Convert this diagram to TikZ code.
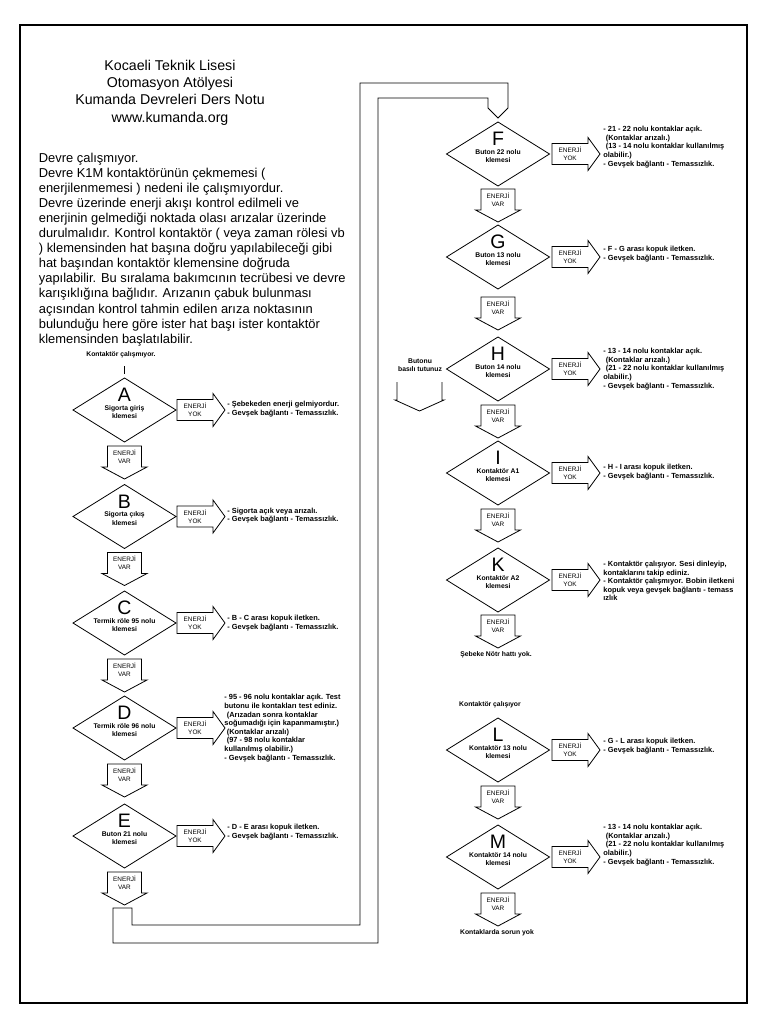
\documentclass[tikz,border=0pt]{standalone}
\usepackage{fontspec}
\setmainfont{Liberation Sans}
\newcommand\descfont{\fontsize{7.4}{8.6}\selectfont\bfseries}
\newcommand\sublabfont{\fontsize{6.8}{8.8}\selectfont\bfseries}
\newcommand\arrfont{\fontsize{6.4}{7.8}\selectfont}
\newcommand\letfont{\fontsize{19.5}{19.5}\selectfont}
\newcommand\ind{\hspace*{2.5pt}}
% diamond: name, cx, cy, letter, first line
\newcommand\Dmd[5]{%
  \draw (#2-51.5,#3) -- (#2,#3-32) -- (#2+51.5,#3) -- (#2,#3+32) -- cycle;
  \node[letnode] (#1-letter) at (#2,#3-15) {#4};
  \node[sublab] (#1) at (#2,#3+2) {#5\\klemesi};
}
% right block arrow: name, left x, centre y
\newcommand\YokArrow[3]{%
  \draw (#2,#3-10.5) -- (#2+36,#3-10.5) -- (#2+36,#3-16.5) -- (#2+48,#3)
        -- (#2+36,#3+16.5) -- (#2+36,#3+10.5) -- (#2,#3+10.5) -- cycle;
  \node[arrtext] (#1) at (#2+18,#3) {ENERJİ\\YOK};
}
% down block arrow: name, centre x, top y
\newcommand\VarArrow[3]{%
  \draw (#2-17,#3) -- (#2+17,#3) -- (#2+17,#3+21) -- (#2+22.5,#3+21)
        -- (#2,#3+33) -- (#2-22.5,#3+21) -- (#2-17,#3+21) -- cycle;
  \node[arrtext] (#1) at (#2,#3+10.5) {ENERJİ\\VAR};
}
\begin{document}
\begin{tikzpicture}[x=1pt,y=-1pt,line width=0.8pt,line join=miter,
  desc/.style={font=\descfont,align=left,anchor=west,inner sep=0pt},
  sublab/.style={font=\sublabfont,align=center,inner sep=0pt},
  arrtext/.style={font=\arrfont,align=center,inner sep=0pt},
  letnode/.style={font=\letfont,inner sep=0pt},
  smalllab/.style={font=\sublabfont,inner sep=0pt,align=center}]
\useasboundingbox (0,0) rectangle (768,1024);
\fill[white] (0,0) rectangle (768,1024);
\draw[line width=1.1pt] (20,25) rectangle (747,1003);

% title
\node[anchor=north,align=center,inner sep=0pt,font=\fontsize{14.2}{17.2}\selectfont] (title) at (170,59.8)
 {Kocaeli Teknik Lisesi\\Otomasyon Atölyesi\\Kumanda Devreleri Ders Notu\\www.kumanda.org};

% paragraph
\node[anchor=north west,align=left,inner sep=0pt,font=\fontsize{12.9}{15.1}\selectfont] (para) at (38.5,152.3)
 {Devre çalışmıyor.\\
Devre K1M kontaktörünün çekmemesi (\\
enerjilenmemesi ) nedeni ile çalışmıyordur.\\
Devre üzerinde enerji akışı kontrol edilmeli ve\\
enerjinin gelmediği noktada olası arızalar üzerinde\\
durulmalıdır. Kontrol kontaktör ( veya zaman rölesi vb\\
) klemensinden hat başına doğru yapılabileceği gibi\\
hat başından kontaktör klemensine doğruda\\
yapılabilir. Bu sıralama bakımcının tecrübesi ve devre\\
karışıklığına bağlıdır. Arızanın çabuk bulunması\\
açısından kontrol tahmin edilen arıza noktasının\\
bulunduğu here göre ister hat başı ister kontaktör\\
klemensinden başlatılabilir.};

% left column
\node[smalllab] (startL) at (121,355) {Kontaktör çalışmıyor.};
\coordinate (tickA) at (124,366);
\coordinate (tickB) at (124,374);
\draw (tickA) -- (tickB);

\Dmd{A}{124.5}{410}{A}{Sigorta giriş}
\YokArrow{yA}{177}{410}
\node[desc] (dA) at (227,409) {- Şebekeden enerji gelmiyordur.\\- Gevşek bağlantı - Temassızlık.};
\VarArrow{vA}{124.5}{446}

\Dmd{B}{124.5}{516.5}{B}{Sigorta çıkış}
\YokArrow{yB}{177}{516.5}
\node[desc] (dB) at (227,515.5) {- Sigorta açık veya arızalı.\\- Gevşek bağlantı - Temassızlık.};
\VarArrow{vB}{124.5}{552.5}

\Dmd{C}{124.5}{623}{C}{Termik röle 95 nolu}
\YokArrow{yC}{177}{623}
\node[desc] (dC) at (227,623) {- B - C arası kopuk iletken.\\- Gevşek bağlantı - Temassızlık.};
\VarArrow{vC}{124.5}{659}

\Dmd{D}{124.5}{728}{D}{Termik röle 96 nolu}
\YokArrow{yD}{177}{728}
\node[desc] (dD) at (224,728) {- 95 - 96 nolu kontaklar açık. Test\\
butonu ile kontakları test ediniz.\\
\ind(Arızadan sonra kontaklar\\
soğumadığı için kapanmamıştır.)\\
\ind(Kontaklar arızalı)\\
\ind(97 - 98 nolu kontaklar\\
kullanılmış olabilir.)\\
- Gevşek bağlantı - Temassızlık.};
\VarArrow{vD}{124.5}{764}

\Dmd{E}{124.5}{836}{E}{Buton 21 nolu}
\YokArrow{yE}{177}{836}
\node[desc] (dE) at (227,832) {- D - E arası kopuk iletken.\\- Gevşek bağlantı - Temassızlık.};
\VarArrow{vE}{124.5}{872}

% pipe connector from E to F
\draw (113,908) -- (113,943) -- (378,943) -- (378,98) -- (488,98) -- (488,108) -- (498,118)
      -- (508,108) -- (508,83) -- (360,83) -- (360,925) -- (132,925) -- (132,908) -- cycle;

% right column
\Dmd{F}{498}{154}{F}{Buton 22 nolu}
\YokArrow{yF}{552}{154}
\node[desc] (dF) at (603,147) {- 21 - 22 nolu kontaklar açık.\\
\ind(Kontaklar arızalı.)\\
\ind(13 - 14 nolu kontaklar kullanılmış\\
olabilir.)\\
- Gevşek bağlantı - Temassızlık.};
\VarArrow{vF}{498}{189}

\Dmd{G}{498}{257}{G}{Buton 13 nolu}
\YokArrow{yG}{552}{257}
\node[desc] (dG) at (603,254) {- F - G arası kopuk iletken.\\- Gevşek bağlantı - Temassızlık.};
\VarArrow{vG}{498}{297}

\node[smalllab,font=\fontsize{6.8}{8}\selectfont\bfseries] (btn) at (420,365) {Butonu\\basılı tutunuz};
\draw (397,382) -- (397,400) -- (395,400) -- (419.5,411) -- (444,400) -- (442,400) -- (442,382);

\Dmd{H}{498}{369}{H}{Buton 14 nolu}
\YokArrow{yH}{552}{369}
\node[desc] (dH) at (603,369) {- 13 - 14 nolu kontaklar açık.\\
\ind(Kontaklar arızalı.)\\
\ind(21 - 22 nolu kontaklar kullanılmış\\
olabilir.)\\
- Gevşek bağlantı - Temassızlık.};
\VarArrow{vH}{498}{405}

\Dmd{I}{498}{473}{I}{Kontaktör A1}
\YokArrow{yI}{552}{473}
\node[desc] (dI) at (603,472) {- H - I arası kopuk iletken.\\- Gevşek bağlantı - Temassızlık.};
\VarArrow{vI}{498}{509}

\Dmd{K}{498}{580}{K}{Kontaktör A2}
\YokArrow{yK}{552}{580}
\node[desc] (dK) at (603,581) {- Kontaktör çalışıyor. Sesi dinleyip,\\
kontaklarını takip ediniz.\\
- Kontaktör çalışmıyor. Bobin iletkeni\\
kopuk veya gevşek bağlantı - temass\\
ızlık};
\VarArrow{vK}{498}{615}
\node[smalllab] (endK) at (496,655) {Şebeke Nötr hattı yok.};

\node[smalllab] (startR) at (490,705) {Kontaktör çalışıyor};

\Dmd{L}{498}{750}{L}{Kontaktör 13 nolu}
\YokArrow{yL}{552}{750}
\node[desc] (dL) at (603,746) {- G - L arası kopuk iletken.\\- Gevşek bağlantı - Temassızlık.};
\VarArrow{vL}{498}{786}

\Dmd{M}{498}{857}{M}{Kontaktör 14 nolu}
\YokArrow{yM}{552}{857}
\node[desc] (dM) at (603,845) {- 13 - 14 nolu kontaklar açık.\\
\ind(Kontaklar arızalı.)\\
\ind(21 - 22 nolu kontaklar kullanılmış\\
olabilir.)\\
- Gevşek bağlantı - Temassızlık.};
\VarArrow{vM}{498}{893}
\node[smalllab] (endM) at (497,933) {Kontaklarda sorun yok};
\end{tikzpicture}
\end{document}
